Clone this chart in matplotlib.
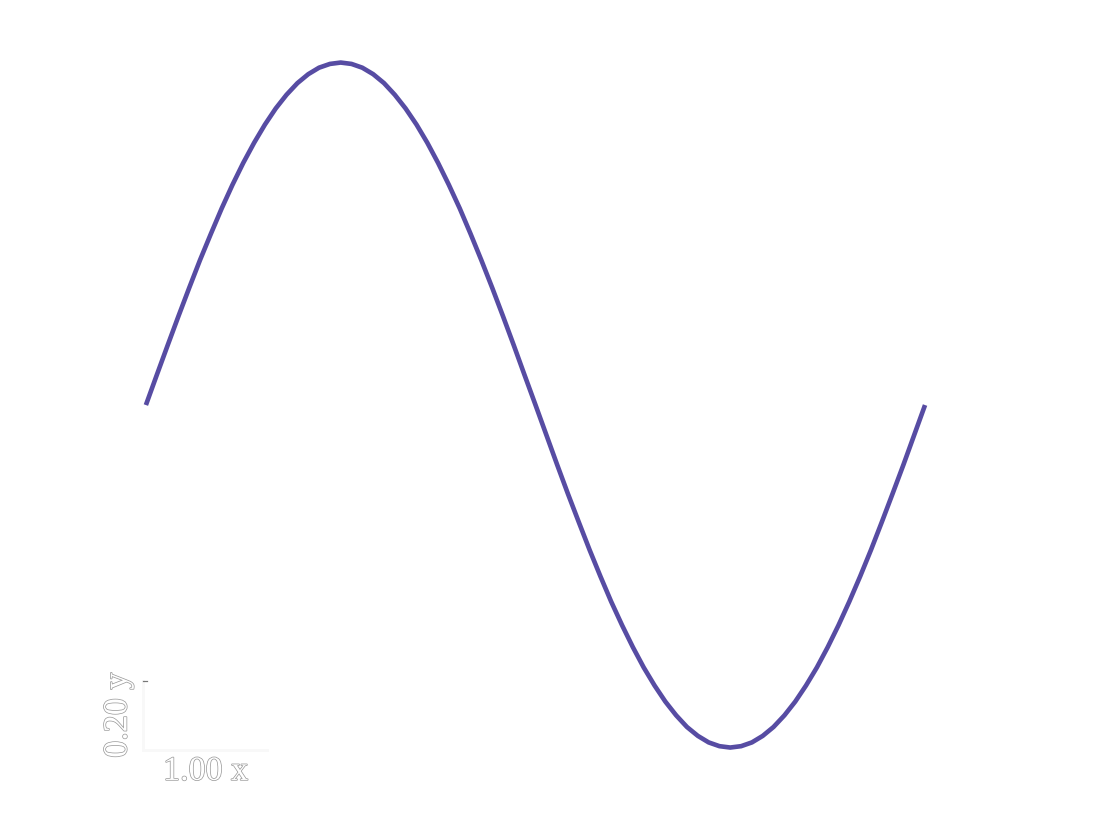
import matplotlib.pyplot as plt
import matplotlib.patheffects as pe

x = [0.000, 0.087, 0.175, 0.262, 0.349, 0.436, 0.524, 0.611, 0.698, 0.785,
     0.873, 0.960, 1.047, 1.134, 1.222, 1.309, 1.396, 1.484, 1.571, 1.658,
     1.745, 1.833, 1.920, 2.007, 2.094, 2.182, 2.269, 2.356, 2.443, 2.531,
     2.618, 2.705, 2.793, 2.880, 2.967, 3.054, 3.142, 3.229, 3.316, 3.403,
     3.491, 3.578, 3.665, 3.752, 3.840, 3.927, 4.014, 4.102, 4.189, 4.276,
     4.363, 4.451, 4.538, 4.625, 4.712, 4.800, 4.887, 4.974, 5.061, 5.149,
     5.236, 5.323, 5.411, 5.498, 5.585, 5.672, 5.760, 5.847, 5.934, 6.021,
     6.109, 6.196, 6.283]
y = [0.000, 0.087, 0.174, 0.259, 0.342, 0.423, 0.500, 0.574, 0.643, 0.707,
     0.766, 0.819, 0.866, 0.906, 0.940, 0.966, 0.985, 0.996, 1.000, 0.996,
     0.985, 0.966, 0.940, 0.906, 0.866, 0.819, 0.766, 0.707, 0.643, 0.574,
     0.500, 0.423, 0.342, 0.259, 0.174, 0.087, 0.000, -0.087, -0.174, -0.259,
     -0.342, -0.423, -0.500, -0.574, -0.643, -0.707, -0.766, -0.819, -0.866, -0.906,
     -0.940, -0.966, -0.985, -0.996, -1.000, -0.996, -0.985, -0.966, -0.940, -0.906,
     -0.866, -0.819, -0.766, -0.707, -0.643, -0.574, -0.500, -0.423, -0.342, -0.259,
     -0.174, -0.087, 0.000]

# scale bar
bar_x = 1.00
bar_y = 0.20
bar_x_label = '1.00 x'
bar_y_label = '0.20 y'

fig = plt.figure(figsize=(6.4, 4.8), dpi=175)
ax = fig.add_axes([0.0955, 0.0693, 0.7652, 0.897])
ax.plot(x, y, color='#574ca3', lw=1.9, solid_joinstyle='round',
        solid_capstyle='butt')
ax.set_xlim(-0.314, 6.597)
ax.set_ylim(-1.1, 1.1)
ax.axis('off')

x0, y0 = -0.02, -1.006
ax.plot([x0, x0 + bar_x], [y0, y0], color='#f8f8f8', lw=1.2, clip_on=False)
ax.plot([x0, x0], [y0, y0 + bar_y], color='#f8f8f8', lw=1.2, clip_on=False)
ax.plot([x0, x0 + 0.025], [y0 + bar_y, y0 + bar_y], color='#777777', lw=0.5,
        clip_on=False)

stroke = [pe.withStroke(linewidth=0.6, foreground='#9a9a9a')]
ax.text(x0 + bar_x / 2, y0 - 0.02, bar_x_label, ha='center', va='top',
        fontsize=14, family='Liberation Serif', color='white',
        path_effects=stroke, clip_on=False)
ax.text(x0 - 0.08, y0 + bar_y / 2, bar_y_label, ha='right', va='center',
        rotation=90, fontsize=14, family='Liberation Serif', color='white',
        path_effects=stroke, clip_on=False)

fig.savefig('out.png')
